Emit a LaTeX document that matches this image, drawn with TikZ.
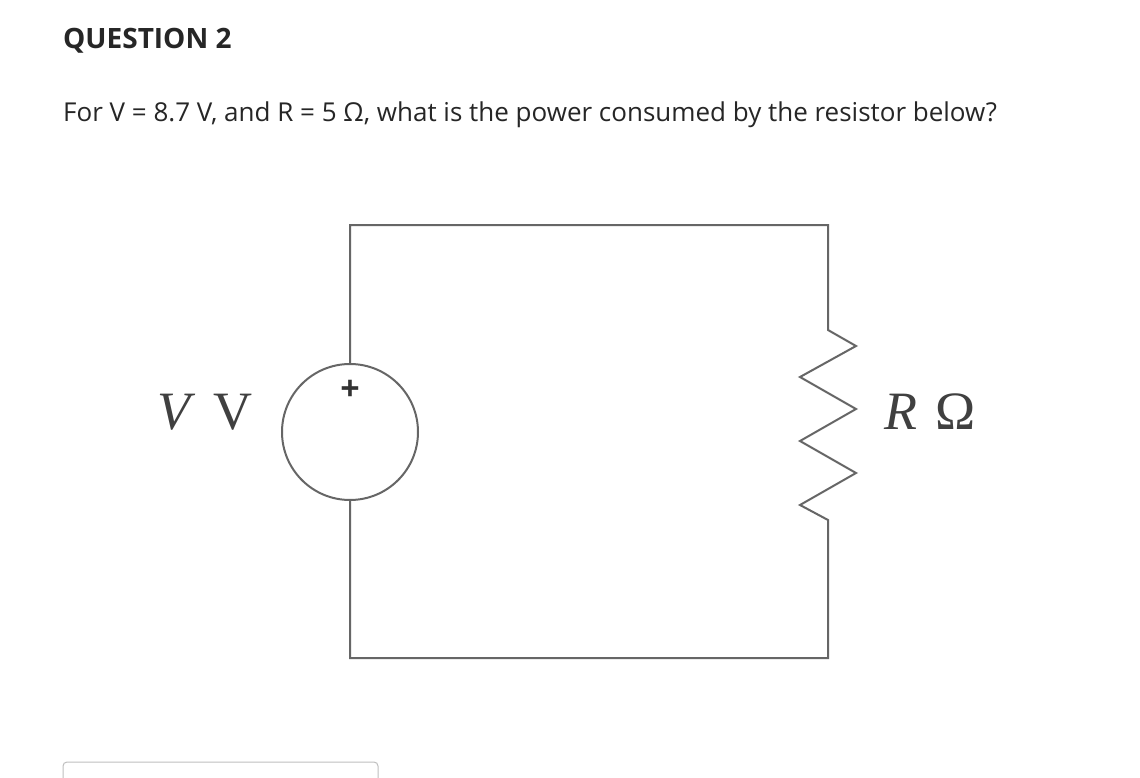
\documentclass[tikz,border=0pt]{standalone}
\usepackage{fontspec}
\setmainfont{Open Sans}
\newfontfamily\serifx{Liberation Serif}
\begin{document}
\begin{tikzpicture}[x=1pt,y=-1pt,
  wire/.style={draw=black!60,line width=2pt},
  lbl/.style={font=\serifx\fontsize{54}{56}\selectfont,text=black!75,inner sep=0}]
\useasboundingbox[fill=white] (0,0) rectangle (1140,778);
\node[anchor=west,font=\bfseries\fontsize{28}{32}\selectfont,text=black!85,inner sep=0] (title) at (63,41) {QUESTION 2};
\node[anchor=west,font=\fontsize{26}{30}\selectfont,text=black!85,inner sep=0] (q) at (63,115) {For V = 8.7 V, and R = 5 Ω, what is the power consumed by the resistor below?};
\node[circle,draw=black!60,line width=2pt,minimum size=136pt,inner sep=0] (src) at (350,432) {};
\node[font=\bfseries\fontsize{34}{36}\selectfont,text=black!80,inner sep=0] (plus) at (350,390) {+};
\coordinate (tl) at (350,225); \coordinate (tr) at (828,225);
\coordinate (bl) at (350,658); \coordinate (br) at (828,658);
\coordinate (r1) at (828,330); \coordinate (r2) at (828,520);
\draw[wire] (src.north) -- (tl) -- (tr) -- (r1)
  -- (856,346) -- (800,377) -- (856,409) -- (800,441) -- (856,473) -- (800,505) -- (r2)
  -- (br) -- (bl) -- (src.south);
\node[lbl] (vl) at (205,412) {\textit{V}\,\,V};
\node[lbl] (rl) at (930,412) {\textit{R}\,\,Ω};
\draw[black!25,line width=1pt,rounded corners=4pt] (63,790) -- (63,762) -- (378,762) -- (378,790);
\end{tikzpicture}
\end{document}
